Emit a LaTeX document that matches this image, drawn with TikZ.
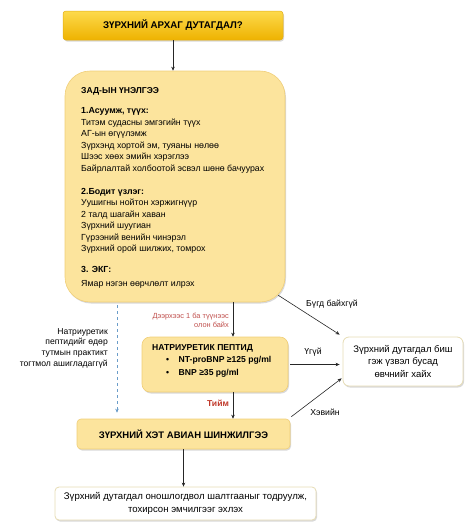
\documentclass[tikz,border=0pt]{standalone}
\usepackage{fontspec}
\setmainfont{Liberation Sans}
\usetikzlibrary{arrows.meta,shadows,calc}

\definecolor{goldtop}{HTML}{FDDA4C}
\definecolor{goldbot}{HTML}{EEB200}
\definecolor{goldedge}{HTML}{E2AE14}
\definecolor{pale}{HTML}{FCE49D}
\definecolor{paleedge}{HTML}{F0CE78}
\definecolor{whiteedge}{HTML}{E6DCB4}
\definecolor{npblue}{HTML}{6A9CC9}
\definecolor{lblred}{HTML}{C0504D}
\definecolor{yesred}{HTML}{C0392B}

\begin{document}
\begin{tikzpicture}[x=1pt,y=-1pt,
    every node/.style={inner sep=0pt},
    shade/.style={drop shadow={shadow xshift=1pt,shadow yshift=-1.5pt,opacity=.25,fill=black!60}},
    goldbox/.style={draw=goldedge, line width=.5pt, top color=goldtop, bottom color=goldbot, rounded corners=3pt, shade},
    palebox/.style={draw=paleedge, line width=.6pt, fill=pale, shade},
    whitebox/.style={draw=whiteedge, line width=.8pt, fill=white, rounded corners=6pt, shade},
    arr/.style={draw=black!85, line width=.6pt, -{Stealth[length=4pt,width=3.5pt]}},
    lbl/.style={font=\fontsize{8.7}{10}\selectfont}
  ]
  \useasboundingbox (0,0) rectangle (474,531);

  % boxes
  \node[goldbox, minimum width=220, minimum height=29] (ask) at (173,25.5)
    {\fontsize{9.7}{11}\selectfont\bfseries ЗҮРХНИЙ АРХАГ ДУТАГДАЛ?};
  \node[palebox, rounded corners=25pt, minimum width=220, minimum height=231] (zad) at (175,186.5) {};
  % base of a multi-line node = last line
  \node[anchor=base west, align=left, font=\fontsize{8.8}{11.5}\selectfont] (zadtxt) at (81,286)
    {\textbf{\fontsize{8.6}{11.5}\selectfont ЗАД-ЫН ҮНЭЛГЭЭ}\\[8.5pt]
     \textbf{1.Асуумж, түүх:}\\
     Титэм судасны эмгэгийн түүх\\
     АГ-ын өгүүлэмж\\
     Зүрхэнд хортой эм, туяаны нөлөө\\
     Шээс хөөх эмийн хэрэглээ\\
     Байрлалтай холбоотой эсвэл шөнө бачуурах\\[11.5pt]
     \textbf{2.Бодит үзлэг:}\\
     Уушигны нойтон хэржигнүүр\\
     2 талд шагайн хаван\\
     Зүрхний шуугиан\\
     Гүрээний венийн чинэрэл\\
     Зүрхний орой шилжих, томрох\\[9pt]
     \textbf{3. ЭКГ:}\\[2.5pt]
     Ямар нэгэн өөрчлөлт илрэх};

  \node[palebox, rounded corners=8pt, minimum width=146, minimum height=55] (pept) at (215,364.5) {};
  \node[anchor=base west, align=left, font=\fontsize{8.6}{12.5}\selectfont\bfseries] (pepttxt) at (152,375)
    {НАТРИУРЕТИК ПЕПТИД\\
     \hspace{14pt}\textbullet\hspace{9.5pt}NT-proBNP ≥125 pg/ml\\
     \hspace{14pt}\textbullet\hspace{9.5pt}BNP ≥35 pg/ml};

  \node[whitebox, minimum width=120, minimum height=49, align=center,
        font=\fontsize{9.5}{12.5}\selectfont] (other) at (403,361.5)
    {Зүрхний дутагдал биш\\гэж үзвэл бусад\\өвчнийг хайх};

  \node[palebox, rounded corners=4pt, minimum width=213, minimum height=30] (echo) at (183.5,434)
    {\fontsize{9.5}{11}\selectfont\bfseries ЗҮРХНИЙ ХЭТ АВИАН ШИНЖИЛГЭЭ};

  \node[whitebox, rounded corners=4pt, minimum width=261, minimum height=33, align=center,
        font=\fontsize{9.6}{13}\selectfont] (treat) at (185.5,503.5)
    {Зүрхний дутагдал оношлогдвол шалтгааныг тодруулж,\\тохирсон эмчилгээг эхлэх};

  % side texts
  \node[anchor=base east, align=right, font=\fontsize{8.6}{10.8}\selectfont] (nplbl) at (108,366.5)
    {Натриуретик\\пептидийг өдөр\\тутмын практикт\\тогтмол ашигладаггүй};
  \node[anchor=base east, align=right, text=lblred, font=\fontsize{7.4}{9}\selectfont] (onelbl) at (229,327.5)
    {Дээрхээс 1 ба түүнээс\\олон байх};
  \node[text=yesred, font=\fontsize{8.6}{10}\selectfont\bfseries] (yeslbl) at (218,403) {Тийм};
  \node[lbl] (nonelbl) at (332,304) {Бүгд байхгүй};
  \node[lbl] (nolbl) at (313,352) {Үгүй};
  \node[lbl] (normlbl) at (325,412) {Хэвийн};

  % connectors
  \coordinate (colx) at (233,0);
  \coordinate (dashx) at (117,0);
  \draw[arr] (ask.south) -- (ask.south |- zad.north);
  \draw[arr] (zad.south -| colx) -- (pept.north -| colx);
  \draw[arr] (pept.south -| colx) -- (echo.north -| colx);
  \draw[arr] ($(zad.south east)+(-7,-7)$) -- ($(other.north west)+(-3,-2)$);
  \draw[arr] (pept.east) ++(2,0) -- ($(pept.east -| other.west)+(-3,0)$);
  \draw[arr] ($(echo.north east)+(1,-2)$) -- ($(other.south west)+(-1,-8)$);
  \draw[arr] (echo.south) -- (echo.south |- treat.north);
  \draw[npblue, dashed, line width=.6pt, shorten <=3pt, shorten >=6pt, -{Stealth[length=4pt,width=3.5pt]}]
    (zad.south -| dashx) -- (echo.north -| dashx);
\end{tikzpicture}
\end{document}
